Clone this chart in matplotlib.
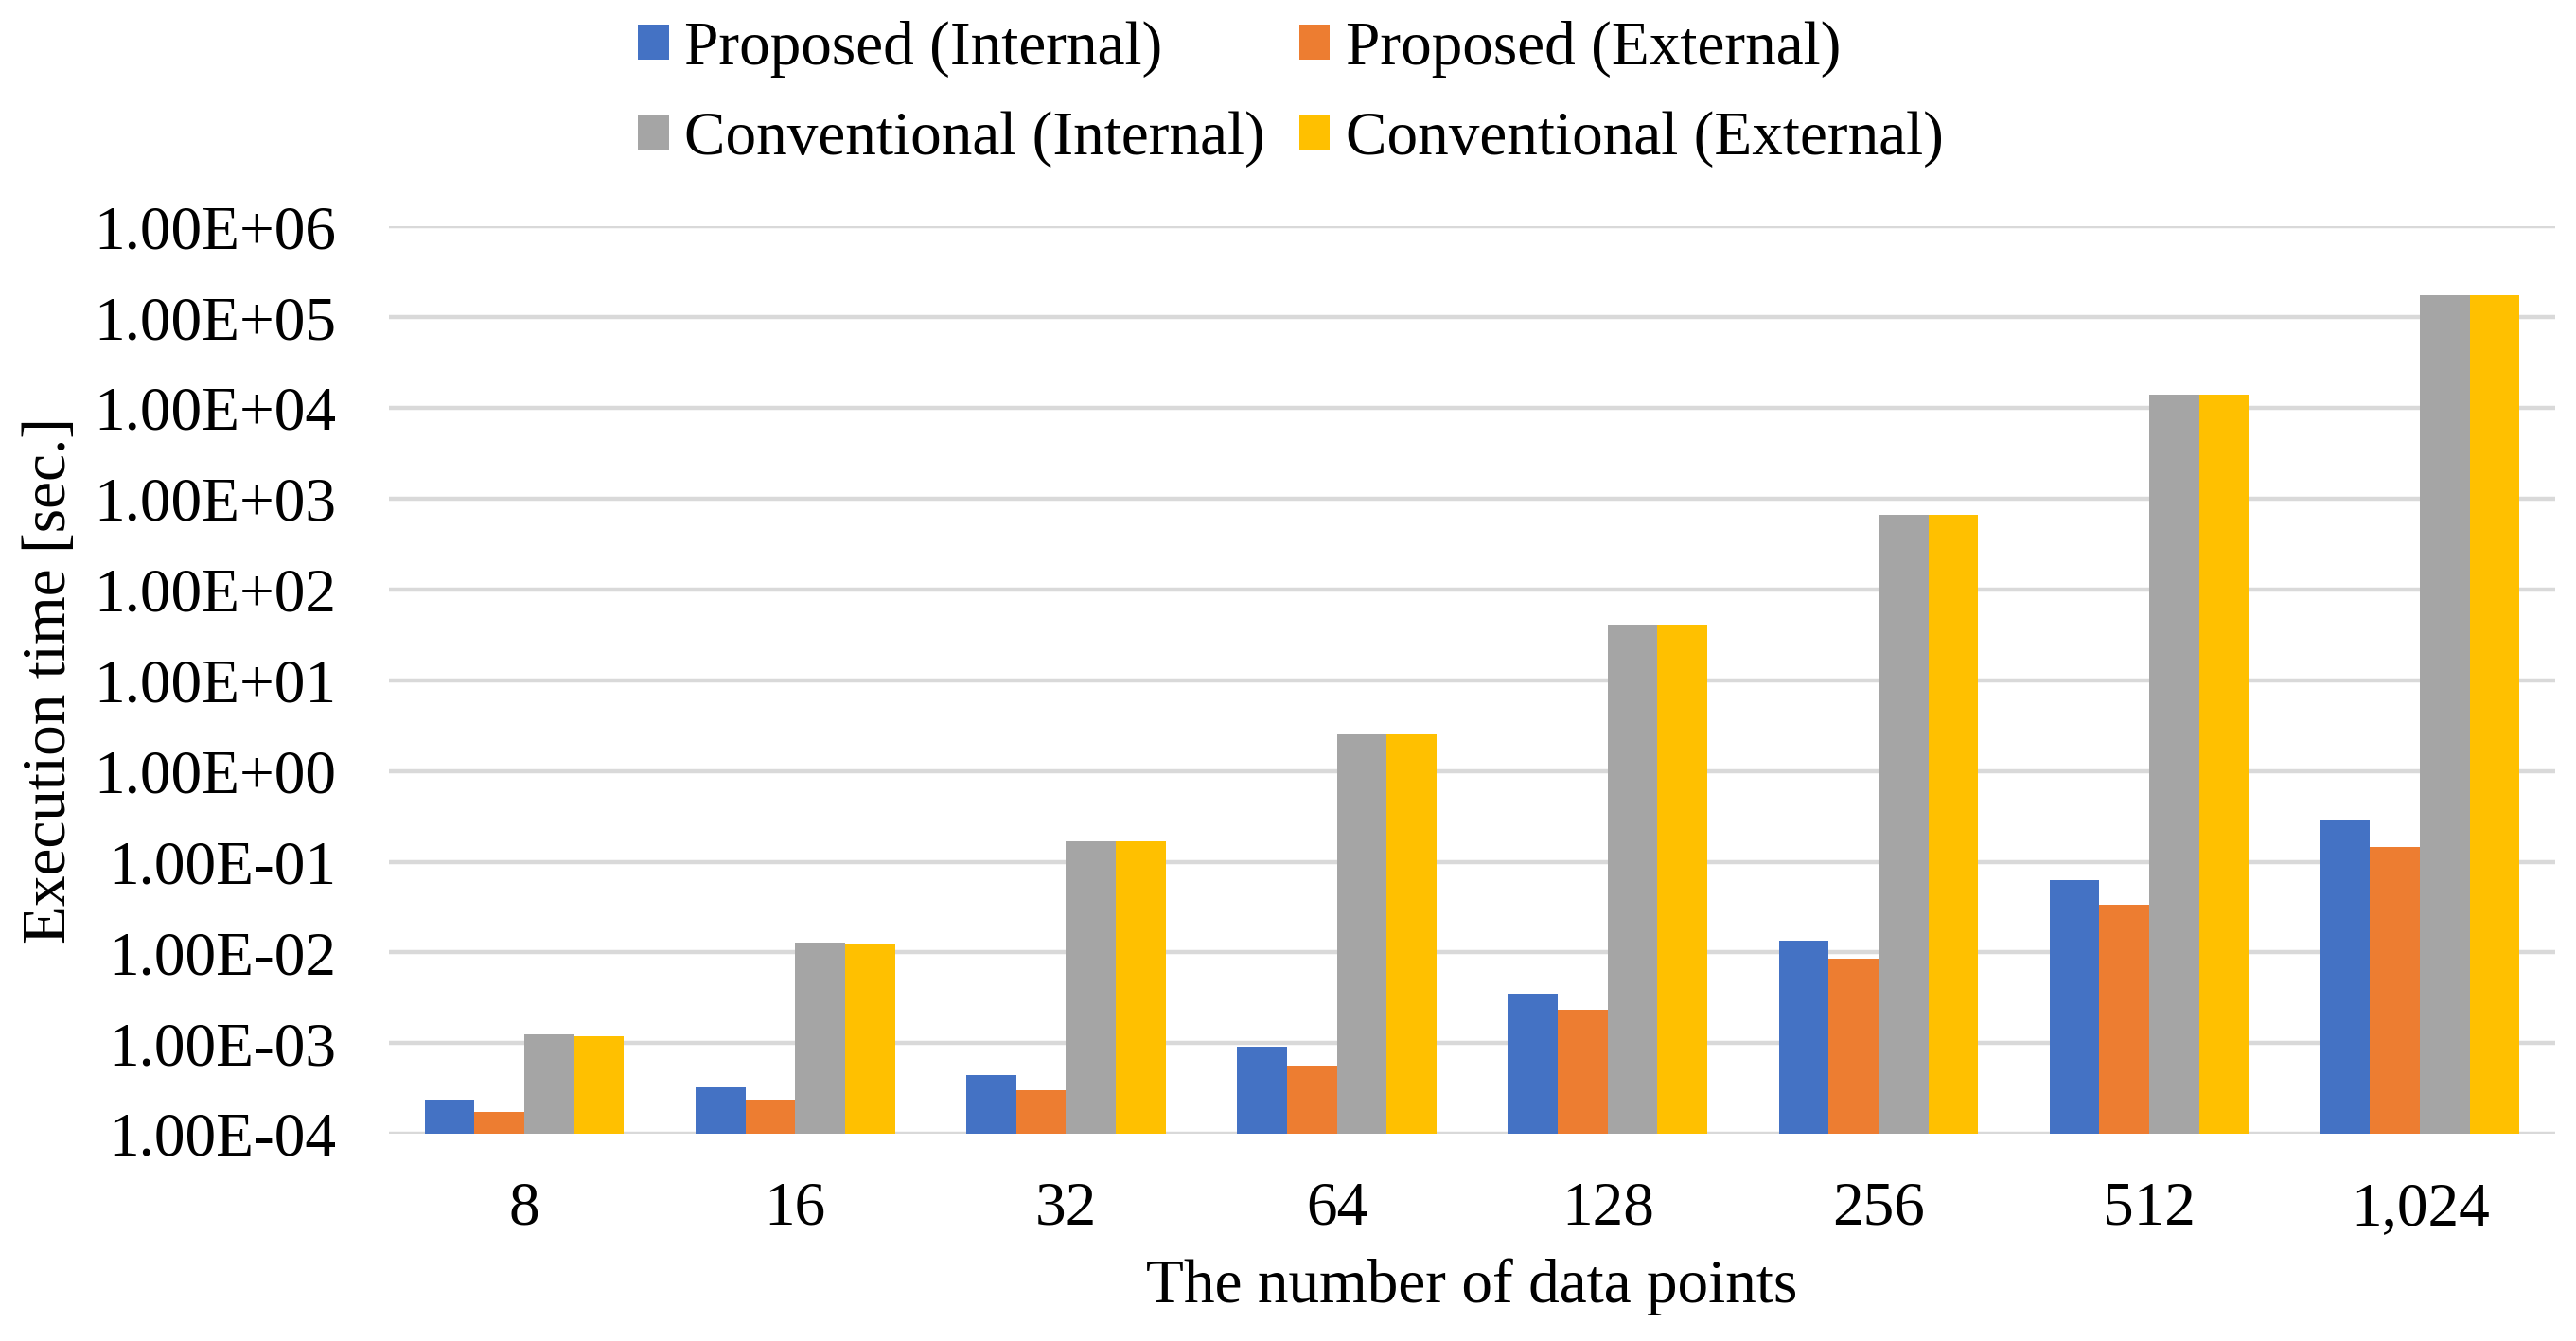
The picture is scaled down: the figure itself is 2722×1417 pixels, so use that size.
import matplotlib
matplotlib.use("Agg")
import matplotlib.pyplot as plt
import numpy as np
from matplotlib.ticker import FuncFormatter, FixedLocator, NullLocator

categories = ["8", "16", "32", "64", "128", "256", "512", "1,024"]
series_names = ["Proposed (Internal)", "Proposed (External)",
                "Conventional (Internal)", "Conventional (External)"]
proposed_internal = [2.36e-4, 3.23e-4, 4.41e-4, 9.08e-4, 3.50e-3, 1.35e-2, 6.28e-2, 2.93e-1]
proposed_external = [1.73e-4, 2.36e-4, 3.07e-4, 5.61e-4, 2.32e-3, 8.51e-3, 3.36e-2, 1.46e-1]
conventional_internal = [1.24e-3, 1.30e-2, 1.68e-1, 2.54e+0, 4.13e+1, 6.59e+2, 1.41e+4, 1.77e+5]
conventional_external = [1.18e-3, 1.27e-2, 1.68e-1, 2.54e+0, 4.13e+1, 6.59e+2, 1.41e+4, 1.77e+5]
colors = ["#4472C4", "#ED7D31", "#A5A5A5", "#FFC000"]
y_ticks = [1e-4, 1e-3, 1e-2, 1e-1, 1e0, 1e1, 1e2, 1e3, 1e4, 1e5, 1e6]

plt.rcParams['font.family'] = ['Liberation Serif', 'DejaVu Serif']
FS = 23.5

fig = plt.figure(figsize=(13.61, 7.085), dpi=200)
ax = fig.add_axes([0.151, 0.1544, 0.841, 0.6766])

data = [proposed_internal, proposed_external, conventional_internal, conventional_external]
x = np.arange(len(categories))
bw = 0.184
handles = []
for i, (vals, c, name) in enumerate(zip(data, colors, series_names)):
    h = ax.bar(x + (i - 1.5) * bw, vals, width=bw, color=c, label=name, zorder=3,
               linewidth=0)
    handles.append(h)

ax.set_yscale('log')
ax.set_ylim(1e-4, 1e6)
ax.set_xlim(-0.5, len(categories) - 0.5)
ax.yaxis.set_major_locator(FixedLocator(y_ticks))
ax.yaxis.set_minor_locator(NullLocator())
ax.yaxis.set_major_formatter(FuncFormatter(lambda v, p: f"{v:.2E}"))
ax.set_xticks(x)
ax.set_xticklabels(categories)
ax.grid(axis='y', color='#D9D9D9', linewidth=1.6, zorder=0)
ax.set_axisbelow(True)
for s in ax.spines.values():
    s.set_visible(False)
ax.tick_params(axis='both', length=0, labelsize=FS)
ax.tick_params(axis='y', pad=20)
ax.tick_params(axis='x', pad=18)

ax.set_xlabel("The number of data points", fontsize=FS, labelpad=8)
ax.set_ylabel("Execution time [sec.]", fontsize=FS, labelpad=6)

order = [0, 2, 1, 3]
leg = fig.legend([handles[k] for k in order], [series_names[k] for k in order],
                 loc='upper center', bbox_to_anchor=(0.501, 1.003), ncol=2,
                 frameon=False, fontsize=FS, handlelength=0.5, handleheight=0.5,
                 handletextpad=0.25, columnspacing=0.55, labelspacing=0.55,
                 borderaxespad=0)

fig.savefig("out.png", dpi=200)
